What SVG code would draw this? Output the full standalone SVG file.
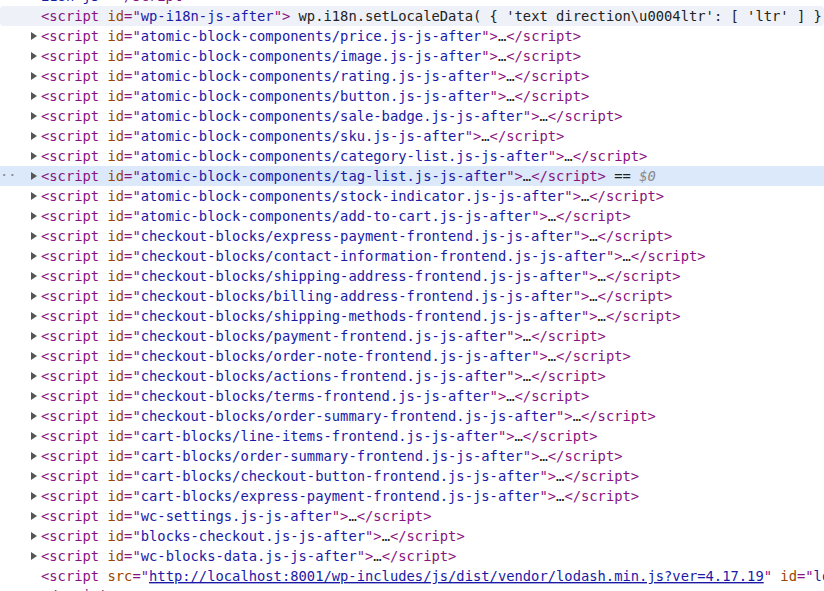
<svg xmlns="http://www.w3.org/2000/svg" width="824" height="591" viewBox="0 0 824 591">
<style>
text{font-family:"DejaVu Sans Mono","Liberation Mono",monospace;font-size:13.8px;fill:#222;white-space:pre}
.t{fill:#881280}.a{fill:#994500}.v{fill:#1a1aa6}.k{fill:#1a1aa6;text-decoration:underline}.g{fill:#888;font-style:italic}
.tri{fill:#555}
</style>
<rect x="0" y="0" width="824" height="591" fill="#fff"/>
<rect x="0" y="6" width="824" height="20" rx="4" fill="#eef1f8"/>
<rect x="0" y="166" width="824" height="20" fill="#dbe9fa"/>
<defs><path id="tr" d="M0,-4 L6,0 L0,4 Z" class="tri"/></defs>
<g id="rows">
<text x="41" y="1"><tspan class="v">i18n-js"</tspan><tspan class="t">&gt;&lt;/script&gt;</tspan></text>
<text x="41" y="21"><tspan class="t">&lt;script</tspan> <tspan class="a">id</tspan><tspan class="t">="</tspan><tspan class="v">wp-i18n-js-after</tspan><tspan class="t">"&gt;</tspan> wp.i18n.setLocaleData( { 'text direction\u0004ltr': [ 'ltr' ] }</text>
<text x="0" y="180" class="g">··</text>
</g>
<g id="items" font-size="13.8">
<use href="#tr" x="31" y="36"/><text x="41" y="41"><tspan class="t">&lt;script</tspan> <tspan class="a">id</tspan><tspan class="t">="</tspan><tspan class="v">atomic-block-components/price.js-js-after</tspan><tspan class="t">"&gt;</tspan>…<tspan class="t">&lt;/script&gt;</tspan></text>
<use href="#tr" x="31" y="56"/><text x="41" y="61"><tspan class="t">&lt;script</tspan> <tspan class="a">id</tspan><tspan class="t">="</tspan><tspan class="v">atomic-block-components/image.js-js-after</tspan><tspan class="t">"&gt;</tspan>…<tspan class="t">&lt;/script&gt;</tspan></text>
<use href="#tr" x="31" y="76"/><text x="41" y="81"><tspan class="t">&lt;script</tspan> <tspan class="a">id</tspan><tspan class="t">="</tspan><tspan class="v">atomic-block-components/rating.js-js-after</tspan><tspan class="t">"&gt;</tspan>…<tspan class="t">&lt;/script&gt;</tspan></text>
<use href="#tr" x="31" y="96"/><text x="41" y="101"><tspan class="t">&lt;script</tspan> <tspan class="a">id</tspan><tspan class="t">="</tspan><tspan class="v">atomic-block-components/button.js-js-after</tspan><tspan class="t">"&gt;</tspan>…<tspan class="t">&lt;/script&gt;</tspan></text>
<use href="#tr" x="31" y="116"/><text x="41" y="121"><tspan class="t">&lt;script</tspan> <tspan class="a">id</tspan><tspan class="t">="</tspan><tspan class="v">atomic-block-components/sale-badge.js-js-after</tspan><tspan class="t">"&gt;</tspan>…<tspan class="t">&lt;/script&gt;</tspan></text>
<use href="#tr" x="31" y="136"/><text x="41" y="141"><tspan class="t">&lt;script</tspan> <tspan class="a">id</tspan><tspan class="t">="</tspan><tspan class="v">atomic-block-components/sku.js-js-after</tspan><tspan class="t">"&gt;</tspan>…<tspan class="t">&lt;/script&gt;</tspan></text>
<use href="#tr" x="31" y="156"/><text x="41" y="161"><tspan class="t">&lt;script</tspan> <tspan class="a">id</tspan><tspan class="t">="</tspan><tspan class="v">atomic-block-components/category-list.js-js-after</tspan><tspan class="t">"&gt;</tspan>…<tspan class="t">&lt;/script&gt;</tspan></text>
<use href="#tr" x="31" y="176"/><text x="41" y="181"><tspan class="t">&lt;script</tspan> <tspan class="a">id</tspan><tspan class="t">="</tspan><tspan class="v">atomic-block-components/tag-list.js-js-after</tspan><tspan class="t">"&gt;</tspan>…<tspan class="t">&lt;/script&gt;</tspan> == <tspan class="g">$0</tspan></text>
<use href="#tr" x="31" y="196"/><text x="41" y="201"><tspan class="t">&lt;script</tspan> <tspan class="a">id</tspan><tspan class="t">="</tspan><tspan class="v">atomic-block-components/stock-indicator.js-js-after</tspan><tspan class="t">"&gt;</tspan>…<tspan class="t">&lt;/script&gt;</tspan></text>
<use href="#tr" x="31" y="216"/><text x="41" y="221"><tspan class="t">&lt;script</tspan> <tspan class="a">id</tspan><tspan class="t">="</tspan><tspan class="v">atomic-block-components/add-to-cart.js-js-after</tspan><tspan class="t">"&gt;</tspan>…<tspan class="t">&lt;/script&gt;</tspan></text>
<use href="#tr" x="31" y="236"/><text x="41" y="241"><tspan class="t">&lt;script</tspan> <tspan class="a">id</tspan><tspan class="t">="</tspan><tspan class="v">checkout-blocks/express-payment-frontend.js-js-after</tspan><tspan class="t">"&gt;</tspan>…<tspan class="t">&lt;/script&gt;</tspan></text>
<use href="#tr" x="31" y="256"/><text x="41" y="261"><tspan class="t">&lt;script</tspan> <tspan class="a">id</tspan><tspan class="t">="</tspan><tspan class="v">checkout-blocks/contact-information-frontend.js-js-after</tspan><tspan class="t">"&gt;</tspan>…<tspan class="t">&lt;/script&gt;</tspan></text>
<use href="#tr" x="31" y="276"/><text x="41" y="281"><tspan class="t">&lt;script</tspan> <tspan class="a">id</tspan><tspan class="t">="</tspan><tspan class="v">checkout-blocks/shipping-address-frontend.js-js-after</tspan><tspan class="t">"&gt;</tspan>…<tspan class="t">&lt;/script&gt;</tspan></text>
<use href="#tr" x="31" y="296"/><text x="41" y="301"><tspan class="t">&lt;script</tspan> <tspan class="a">id</tspan><tspan class="t">="</tspan><tspan class="v">checkout-blocks/billing-address-frontend.js-js-after</tspan><tspan class="t">"&gt;</tspan>…<tspan class="t">&lt;/script&gt;</tspan></text>
<use href="#tr" x="31" y="316"/><text x="41" y="321"><tspan class="t">&lt;script</tspan> <tspan class="a">id</tspan><tspan class="t">="</tspan><tspan class="v">checkout-blocks/shipping-methods-frontend.js-js-after</tspan><tspan class="t">"&gt;</tspan>…<tspan class="t">&lt;/script&gt;</tspan></text>
<use href="#tr" x="31" y="336"/><text x="41" y="341"><tspan class="t">&lt;script</tspan> <tspan class="a">id</tspan><tspan class="t">="</tspan><tspan class="v">checkout-blocks/payment-frontend.js-js-after</tspan><tspan class="t">"&gt;</tspan>…<tspan class="t">&lt;/script&gt;</tspan></text>
<use href="#tr" x="31" y="356"/><text x="41" y="361"><tspan class="t">&lt;script</tspan> <tspan class="a">id</tspan><tspan class="t">="</tspan><tspan class="v">checkout-blocks/order-note-frontend.js-js-after</tspan><tspan class="t">"&gt;</tspan>…<tspan class="t">&lt;/script&gt;</tspan></text>
<use href="#tr" x="31" y="376"/><text x="41" y="381"><tspan class="t">&lt;script</tspan> <tspan class="a">id</tspan><tspan class="t">="</tspan><tspan class="v">checkout-blocks/actions-frontend.js-js-after</tspan><tspan class="t">"&gt;</tspan>…<tspan class="t">&lt;/script&gt;</tspan></text>
<use href="#tr" x="31" y="396"/><text x="41" y="401"><tspan class="t">&lt;script</tspan> <tspan class="a">id</tspan><tspan class="t">="</tspan><tspan class="v">checkout-blocks/terms-frontend.js-js-after</tspan><tspan class="t">"&gt;</tspan>…<tspan class="t">&lt;/script&gt;</tspan></text>
<use href="#tr" x="31" y="416"/><text x="41" y="421"><tspan class="t">&lt;script</tspan> <tspan class="a">id</tspan><tspan class="t">="</tspan><tspan class="v">checkout-blocks/order-summary-frontend.js-js-after</tspan><tspan class="t">"&gt;</tspan>…<tspan class="t">&lt;/script&gt;</tspan></text>
<use href="#tr" x="31" y="436"/><text x="41" y="441"><tspan class="t">&lt;script</tspan> <tspan class="a">id</tspan><tspan class="t">="</tspan><tspan class="v">cart-blocks/line-items-frontend.js-js-after</tspan><tspan class="t">"&gt;</tspan>…<tspan class="t">&lt;/script&gt;</tspan></text>
<use href="#tr" x="31" y="456"/><text x="41" y="461"><tspan class="t">&lt;script</tspan> <tspan class="a">id</tspan><tspan class="t">="</tspan><tspan class="v">cart-blocks/order-summary-frontend.js-js-after</tspan><tspan class="t">"&gt;</tspan>…<tspan class="t">&lt;/script&gt;</tspan></text>
<use href="#tr" x="31" y="476"/><text x="41" y="481"><tspan class="t">&lt;script</tspan> <tspan class="a">id</tspan><tspan class="t">="</tspan><tspan class="v">cart-blocks/checkout-button-frontend.js-js-after</tspan><tspan class="t">"&gt;</tspan>…<tspan class="t">&lt;/script&gt;</tspan></text>
<use href="#tr" x="31" y="496"/><text x="41" y="501"><tspan class="t">&lt;script</tspan> <tspan class="a">id</tspan><tspan class="t">="</tspan><tspan class="v">cart-blocks/express-payment-frontend.js-js-after</tspan><tspan class="t">"&gt;</tspan>…<tspan class="t">&lt;/script&gt;</tspan></text>
<use href="#tr" x="31" y="516"/><text x="41" y="521"><tspan class="t">&lt;script</tspan> <tspan class="a">id</tspan><tspan class="t">="</tspan><tspan class="v">wc-settings.js-js-after</tspan><tspan class="t">"&gt;</tspan>…<tspan class="t">&lt;/script&gt;</tspan></text>
<use href="#tr" x="31" y="536"/><text x="41" y="541"><tspan class="t">&lt;script</tspan> <tspan class="a">id</tspan><tspan class="t">="</tspan><tspan class="v">blocks-checkout.js-js-after</tspan><tspan class="t">"&gt;</tspan>…<tspan class="t">&lt;/script&gt;</tspan></text>
<use href="#tr" x="31" y="556"/><text x="41" y="561"><tspan class="t">&lt;script</tspan> <tspan class="a">id</tspan><tspan class="t">="</tspan><tspan class="v">wc-blocks-data.js-js-after</tspan><tspan class="t">"&gt;</tspan>…<tspan class="t">&lt;/script&gt;</tspan></text>
<text x="41" y="581"><tspan class="t">&lt;script</tspan> <tspan class="a">src</tspan><tspan class="t">="</tspan><tspan class="k">http://localhost:8001/wp-includes/js/dist/vendor/lodash.min.js?ver=4.17.19</tspan><tspan class="t">"</tspan> <tspan class="a">id</tspan><tspan class="t">="</tspan><tspan class="v">lodash-js</tspan></text>
<text x="41" y="600" class="t">&lt;/script&gt;</text>
</g>
</svg>
